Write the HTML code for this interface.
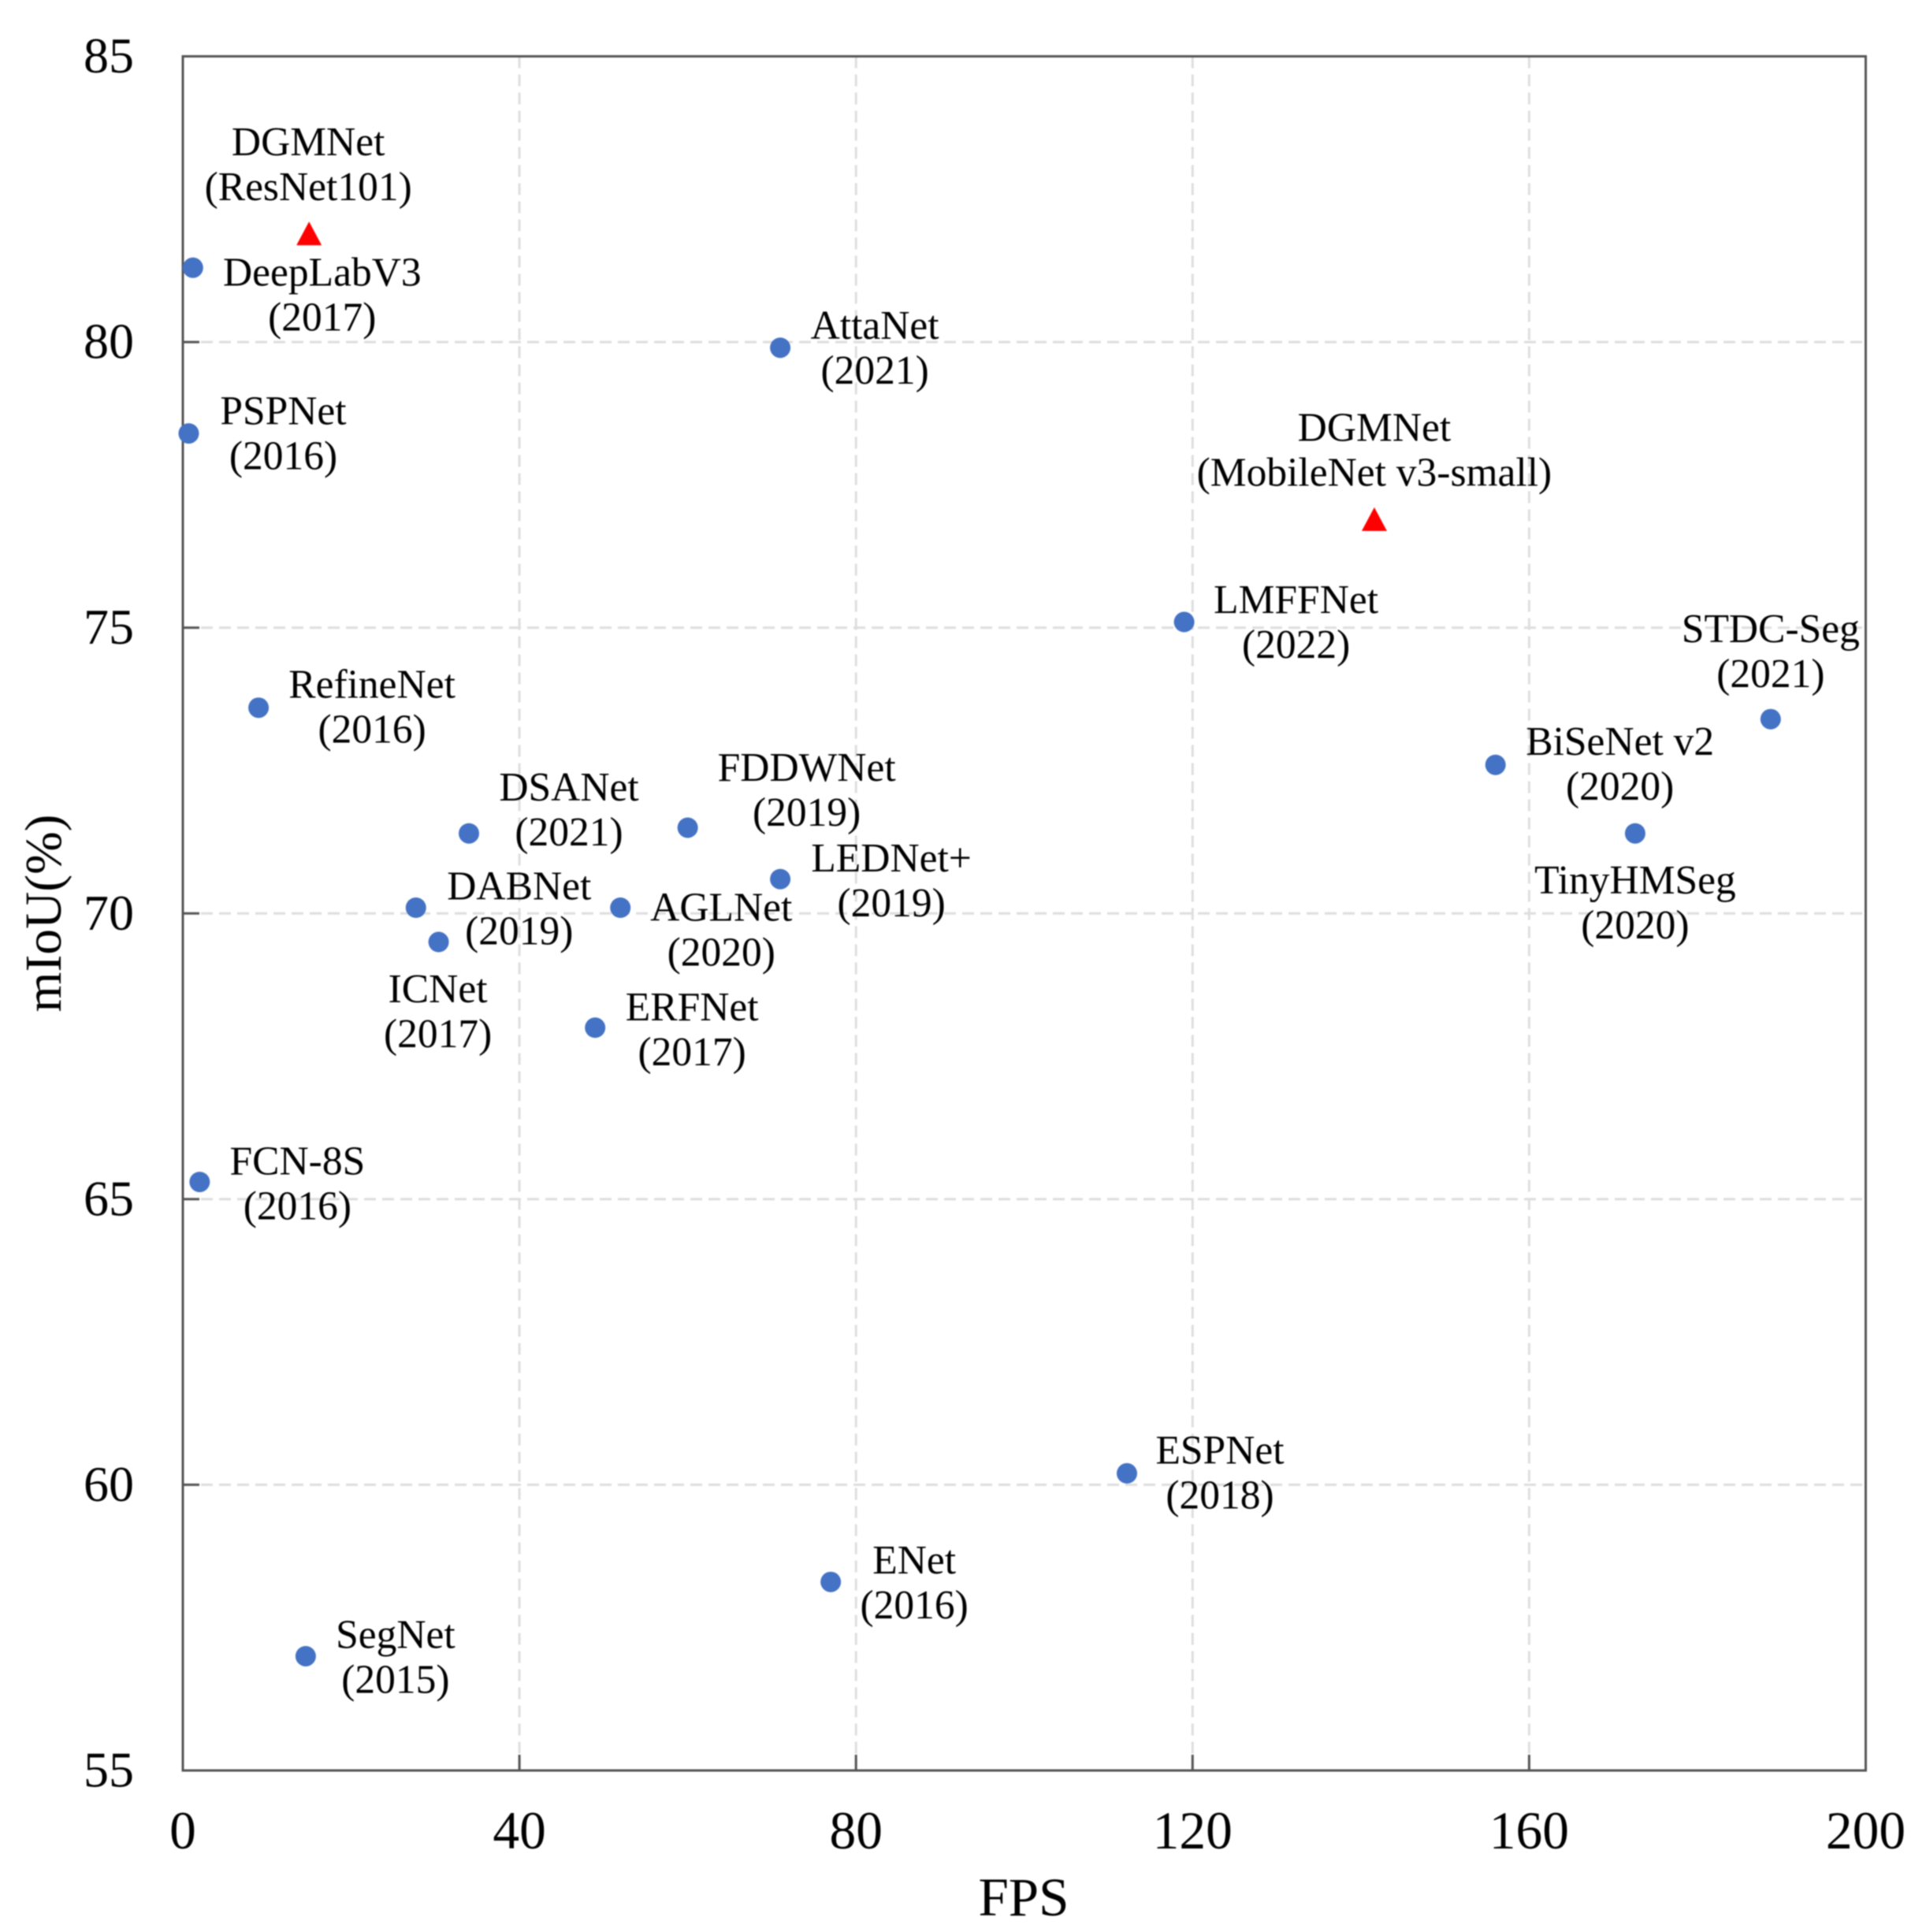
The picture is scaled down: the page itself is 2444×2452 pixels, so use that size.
<!DOCTYPE html>
<html lang="en">
<head>
<meta charset="utf-8">
<title>mIoU vs FPS</title>
<style>
html,body{margin:0;padding:0;background:#fff;}
svg{display:block;filter:blur(0.7px);}
text{font-family:"Liberation Serif","Times New Roman",serif;fill:#000;}
</style>
</head>
<body>
<svg id="chart" xmlns="http://www.w3.org/2000/svg" width="2444" height="2452" viewBox="0 0 2444 2452">
  <rect x="0" y="0" width="2444" height="2452" fill="#ffffff"/>
  <g id="grid"></g>
  <g id="ticks"></g>
  <rect x="232" y="71.5" width="2135.5" height="2175.5" fill="none" stroke="#555555" stroke-width="3"/>
  <g id="tick-labels"></g>
  <g id="points"></g>
  <g id="labels"></g>
  <text x="1299" y="2431" font-size="69" text-anchor="middle">FPS</text>
  <text x="0" y="0" font-size="65.5" text-anchor="middle" transform="translate(77,1159) rotate(-90)">mIoU(%)</text>
</svg>
<script>
// Data
const xTicks = [0, 40, 80, 120, 160, 200];
const yTicks = [55, 60, 65, 70, 75, 80, 85];
const names = ["DGMNet","DeepLabV3","PSPNet","AttaNet","DGMNet","LMFFNet","STDC-Seg","BiSeNet v2","TinyHMSeg","RefineNet","DSANet","FDDWNet","LEDNet+","DABNet","AGLNet","ICNet","ERFNet","FCN-8S","ESPNet","ENet","SegNet"];
const subtitles = ["(ResNet101)","(2017)","(2016)","(2021)","(MobileNet v3-small)","(2022)","(2021)","(2020)","(2020)","(2016)","(2021)","(2019)","(2019)","(2019)","(2020)","(2017)","(2017)","(2016)","(2018)","(2016)","(2015)"];
const fps = [15,1.2,0.7,71,141.6,119,188.7,156,172.6,9,34,60,71,27.7,52,30.4,49,2,112.2,77,14.6];
const miou = [81.9,81.3,78.4,79.9,76.9,75.1,73.4,72.6,71.4,73.6,71.4,71.5,70.6,70.1,70.1,69.5,68,65.3,60.2,58.3,57];
const kinds = ["ours","other","other","other","ours","other","other","other","other","other","other","other","other","other","other","other","other","other","other","other","other"];

// Layout (label offset from its point)
const labelDx = [-1,164,120,120,0,142,0,158,0,144,127,151,141,131,128,-1,123,124,118,106,114];
const labelDy = [-117,5,-29,-29,-117,-29,-115,-30,59,-30,-59,-77,-27,-28,-1,59,-27,-27,-30,-28,-28];

const X0 = 232, X1 = 2367.5, Y0 = 2247, Y1 = 71.5;
const xScale = v => X0 + (v - 0) / 200 * (X1 - X0);
const yScale = v => Y0 - (v - 55) / 30 * (Y0 - Y1);
const NS = "http://www.w3.org/2000/svg";
function mk(tag, parent, attrs) {
  const e = document.createElementNS(NS, tag);
  for (const k in attrs) e.setAttribute(k, attrs[k]);
  parent.appendChild(e);
  return e;
}
const gGrid = document.getElementById("grid");
const gTicks = document.getElementById("ticks");
const gTL = document.getElementById("tick-labels");
const gPts = document.getElementById("points");
const gLab = document.getElementById("labels");

xTicks.forEach(t => {
  const x = xScale(t);
  if (t > 0 && t < 200) {
    const g = mk("line", gGrid, {x1:x, x2:x, y1:Y1, y2:Y0, stroke:"#dedede", "stroke-width":3, "stroke-dasharray":"15 8"});
    
    
    const tk = mk("line", gTicks, {x1:x, x2:x, y1:Y0, y2:Y0-20, stroke:"#555555", "stroke-width":3});
    
    
  }
  const l = mk("text", gTL, {x:x, y:2346, "font-size":67.5, "text-anchor":"middle"});
  l.textContent = t;
  
  
});
yTicks.forEach(t => {
  const y = yScale(t);
  if (t > 55 && t < 85) {
    const g = mk("line", gGrid, {x1:X0, x2:X1, y1:y, y2:y, stroke:"#dedede", "stroke-width":3, "stroke-dasharray":"15 8"});
    
    
    const tk = mk("line", gTicks, {x1:X0, x2:X0+21, y1:y, y2:y, stroke:"#555555", "stroke-width":3});
    
    
  }
  const l = mk("text", gTL, {x:170, y:y+20.5, "font-size":64, "text-anchor":"end"});
  l.textContent = t;
  
  
});
names.forEach((n, i) => {
  const x = xScale(fps[i]), y = yScale(miou[i]);
  let m;
  if (kinds[i] === "ours") {
    m = mk("polygon", gPts, {points:`${x},${y-15} ${x+16},${y+15} ${x-16},${y+15}`, fill:"#ff0000"});
  } else {
    m = mk("circle", gPts, {cx:x, cy:y, r:13, fill:"#4472c4"});
  }
  
  
  const cx = x + labelDx[i], cy = y + labelDy[i];
  const a = mk("text", gLab, {x:cx, y:cy+17.5, "font-size":51.5, "text-anchor":"middle"});
  a.textContent = n;
  
  
  const b = mk("text", gLab, {x:cx, y:cy+74.5, "font-size":51.5, "text-anchor":"middle"});
  b.textContent = subtitles[i];
  
  
});
</script>
</body>
</html>
